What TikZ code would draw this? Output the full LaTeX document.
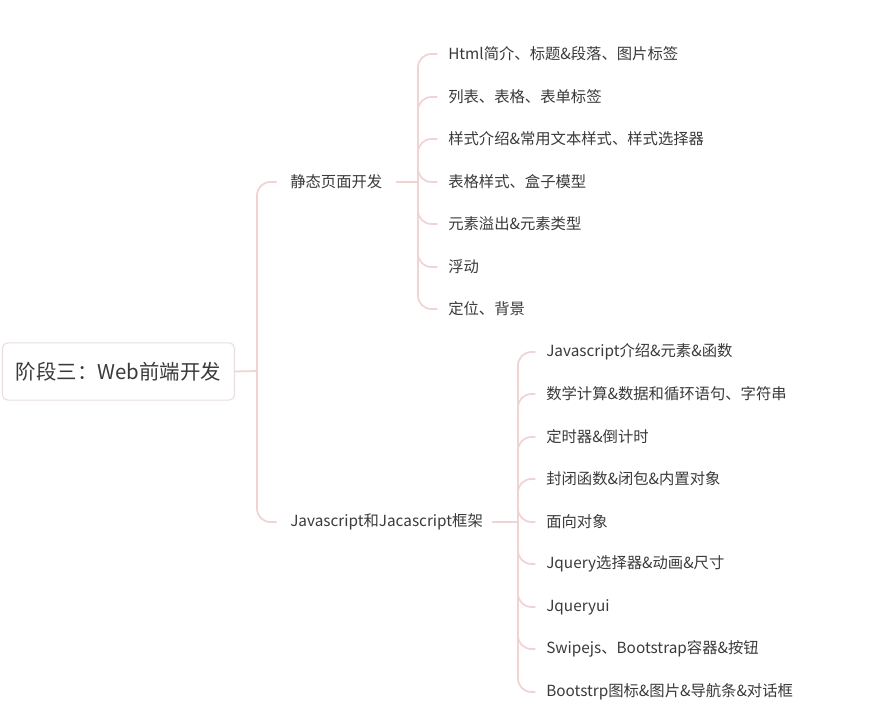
\documentclass[tikz,border=0pt]{standalone}
\usepackage{fontspec}
\setmainfont{Noto Sans CJK SC}
\begin{document}
\begin{tikzpicture}[x=0.75pt,y=-0.75pt,
  link/.style={draw=linkc,line width=1.3pt,rounded corners=10pt},
  leaf/.style={anchor=west,inner sep=0pt,text=txt,font=\fontsize{11.5pt}{13pt}\selectfont},
  rootbox/.style={draw=boxc,line width=0.8pt,rounded corners=4pt,fill=white,minimum width=174pt,minimum height=43pt,text=txt,font=\fontsize{15.3pt}{18pt}\selectfont}]
\definecolor{linkc}{HTML}{F2D3D3}
\definecolor{txt}{HTML}{3A3A3A}
\definecolor{boxc}{HTML}{E8DEDE}
\useasboundingbox[fill=white] (0,0) rectangle (878,717);
\node[rootbox] (root) at (118.5,371.5) {阶段三：Web前端开发};
\node[leaf] (b1) at (290,182) {静态页面开发};
\node[leaf] (b2) at (290,522) {Javascript和Jacascript框架};
\coordinate (t0) at (257,371);
\draw[link] (root.east) -- (t0);
\draw[link] (t0) |- ([xshift=-10pt]b1.west);
\draw[link] (t0) |- ([xshift=-10pt]b2.west);
% branch 1
\coordinate (s1) at (418,182);
\draw[link] ([xshift=10pt]b1.east) -- (s1);
\foreach \y/\t [count=\i] in {54/Html简介、标题\&段落、图片标签,97/列表、表格、表单标签,139/样式介绍\&常用文本样式、样式选择器,182/表格样式、盒子模型,224/元素溢出\&元素类型,267/浮动,309/定位、背景}{
  \node[leaf] (a\i) at (448,\y) {\t};
  \draw[link] (s1) |- ([xshift=-8pt]a\i.west);
}
% branch 2
\coordinate (s2) at (518,522);
\draw[link] ([xshift=7pt]b2.east) -- (s2);
\foreach \y/\t [count=\i] in {352/Javascript介绍\&元素\&函数,394/数学计算\&数据和循环语句、字符串,437/定时器\&倒计时,479/封闭函数\&闭包\&内置对象,522/面向对象,564/Jquery选择器\&动画\&尺寸,607/Jqueryui,649/Swipejs、Bootstrap容器\&按钮,692/Bootstrp图标\&图片\&导航条\&对话框}{
  \node[leaf] (c\i) at (546,\y) {\t};
  \draw[link] (s2) |- ([xshift=-8pt]c\i.west);
}
\end{tikzpicture}
\end{document}
